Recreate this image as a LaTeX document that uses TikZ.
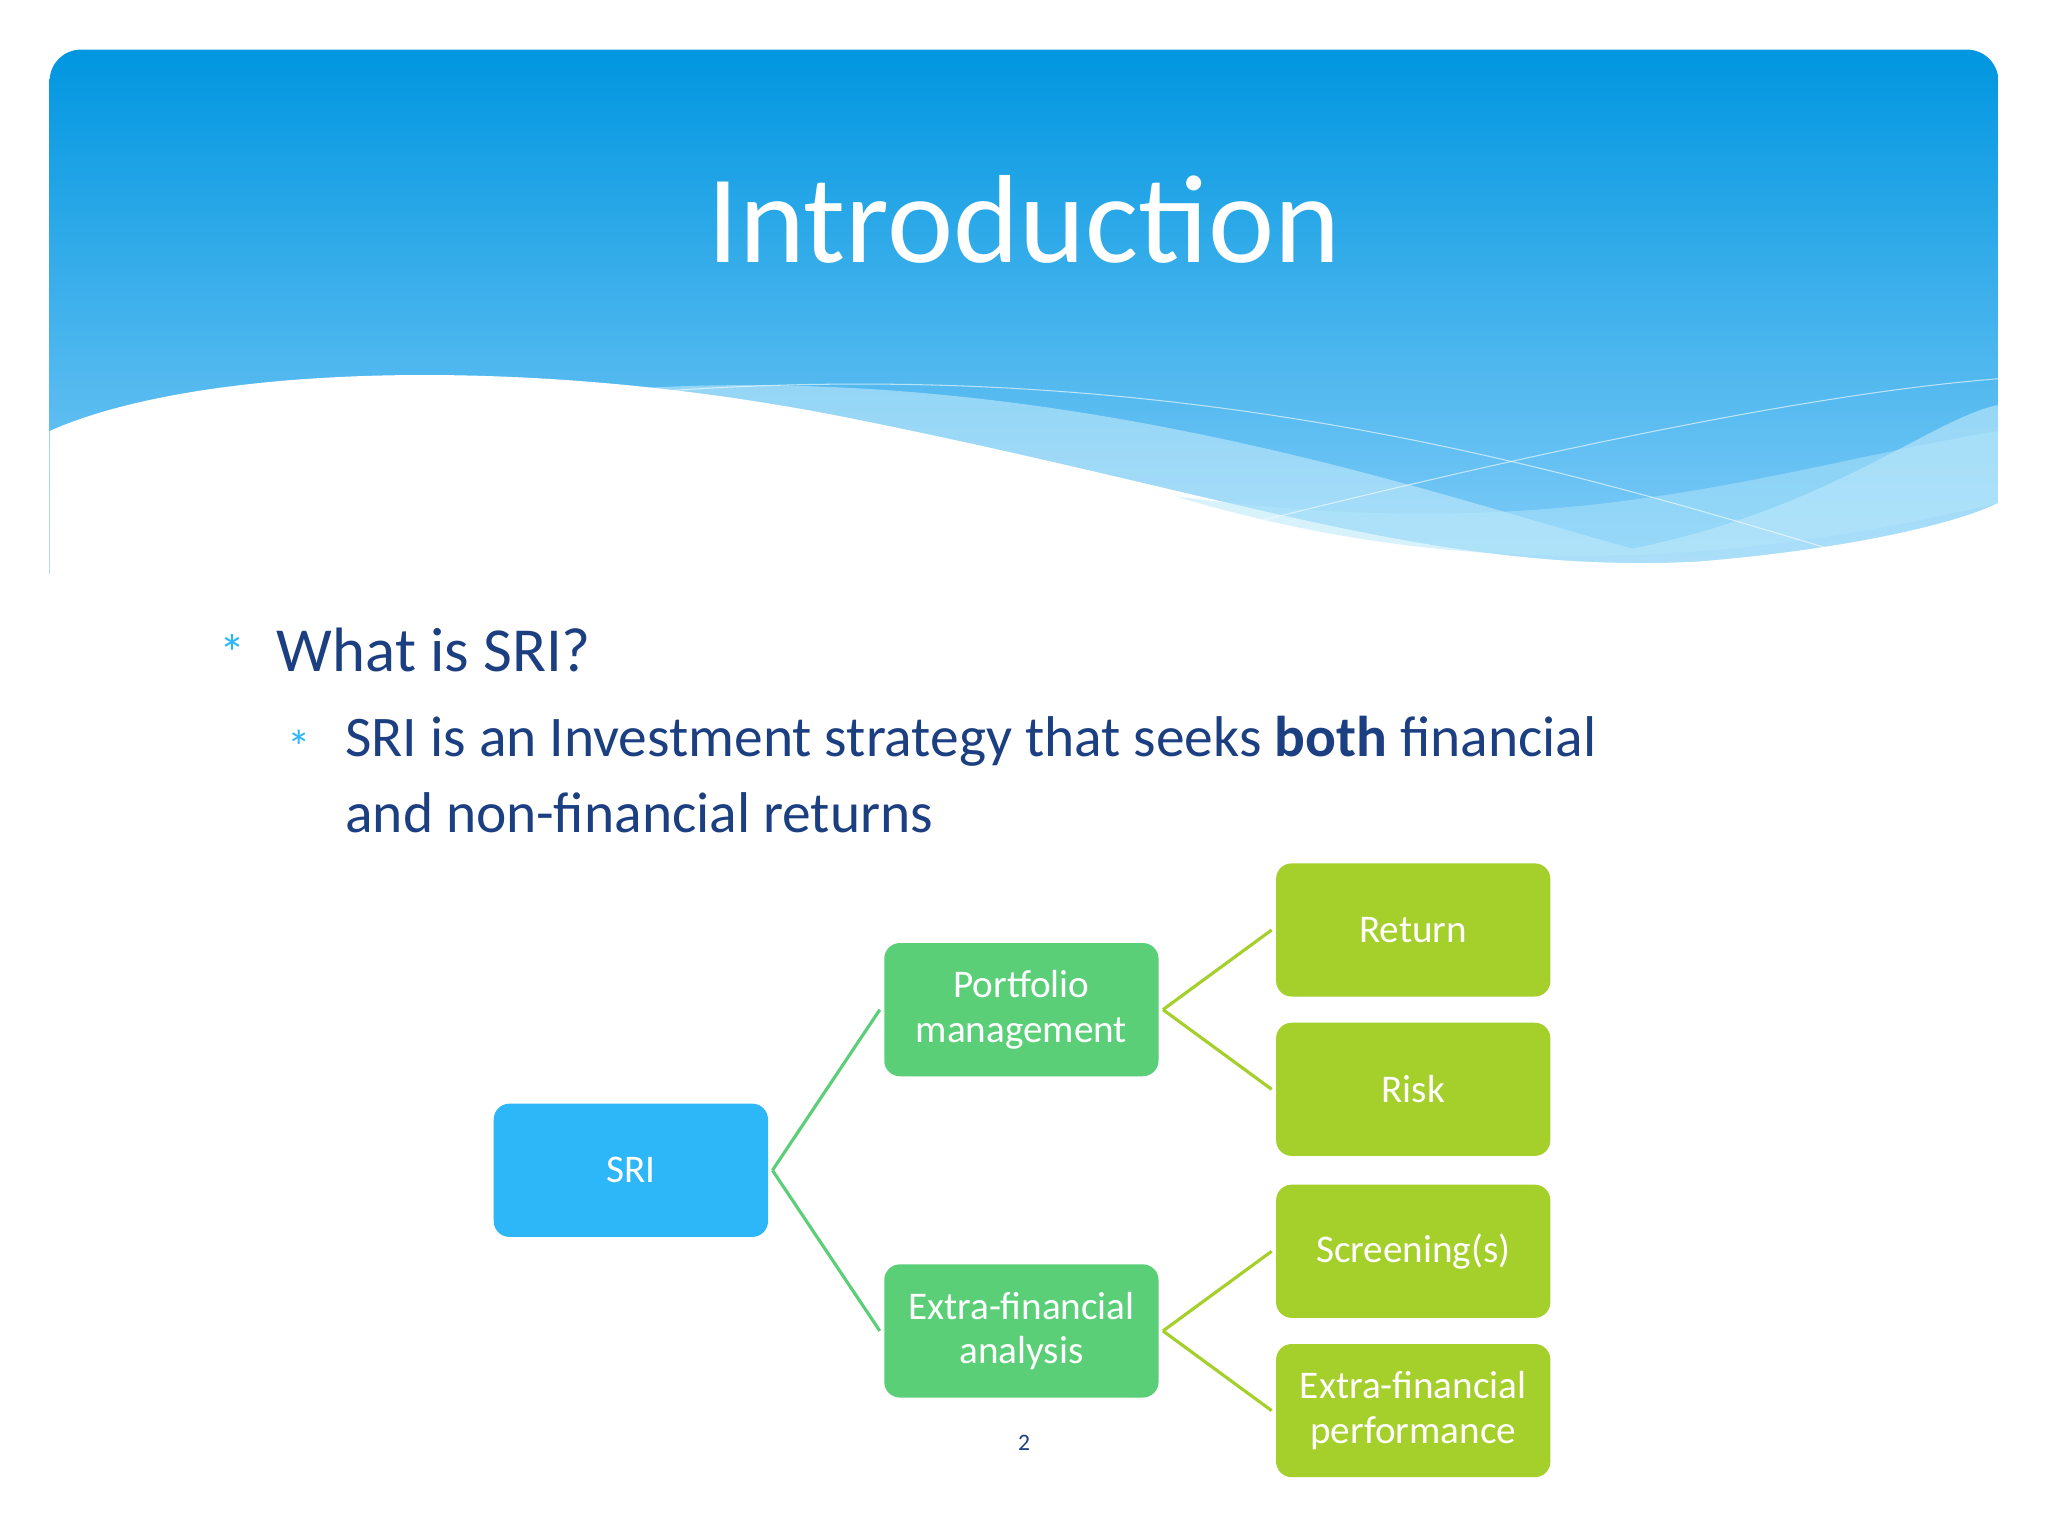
\documentclass[tikz,border=0pt]{standalone}
\usepackage{fontspec}
\setmainfont{Carlito}
\usetikzlibrary{shapes.misc}
\definecolor{tblue}{HTML}{1B3F80}
\definecolor{sri}{HTML}{2DB6F8}
\definecolor{pg}{HTML}{5BCF78}
\definecolor{lime}{HTML}{A5CF2A}
\definecolor{bul}{HTML}{2DB6F8}
\tikzset{
 box/.style={rounded corners=6pt,minimum width=105pt,minimum height=51pt,text=white,font=\fontsize{15}{17}\selectfont,align=center,inner sep=1pt},
 gl/.style={pg,line width=1.2pt},
 ll/.style={lime,line width=1.2pt}}
\begin{document}
\begin{tikzpicture}[x=0.5pt,y=-0.5pt]
\useasboundingbox (0,0) rectangle (1568,1176);
\fill[white] (0,0) rectangle (1568,1176);
% header
\begin{scope}
\clip[rounded corners=12pt] (38,38) rectangle (1530,480);
\shade[top color=blue!10!cyan!80!black!0,top color={rgb,255:red,0;green,150;blue,224},bottom color={rgb,255:red,130;green,205;blue,248}] (38,38) rectangle (1530,440);
\fill[white!60!cyan!40,opacity=0.5] (450,300) .. controls (800,270) and (1100,380) .. (1250,420) .. controls (1400,390) and (1480,320) .. (1530,310) -- (1530,480) -- (450,480) -- cycle;
\fill[white] (38,330) .. controls (150,280) and (400,270) .. (650,320) .. controls (950,380) and (1100,440) .. (1300,430) .. controls (1420,420) and (1500,400) .. (1530,385) -- (1530,480) -- (38,480) -- cycle;
\fill[cyan!30,opacity=0.5] (900,380) .. controls (1100,440) and (1300,440) .. (1530,385) -- (1530,330) .. controls (1350,360) and (1200,420) .. (900,380) -- cycle;
\draw[white,opacity=0.6] (500,300) .. controls (900,270) and (1200,360) .. (1400,420);
\draw[white,opacity=0.6] (960,400) .. controls (1200,340) and (1400,300) .. (1530,290);
\end{scope}
\node[text=white,font=\fontsize{48}{50}\selectfont] (title) at (784,168) {Introduction};
% bullets
\node[text=bul,font=\fontsize{20}{20}\selectfont] (b1) at (178,500) {*};
\node[anchor=west,text=tblue,font=\fontsize{24}{28}\selectfont] (t1) at (205,498) {What is SRI?};
\node[text=bul,font=\fontsize{18}{18}\selectfont] (b2) at (229,572) {*};
\node[anchor=north west,text=tblue,font=\fontsize{22}{29}\selectfont,align=left,inner sep=0pt] (t2) at (264,548) {SRI is an Investment strategy that seeks \textbf{both} financial\\and non-financial returns};
% nodes
\node[box,fill=sri] (sri) at (483,896) {SRI};
\node[box,fill=pg] (pm) at (782,773) {Portfolio\\management};
\node[box,fill=pg] (efa) at (782,1019) {Extra-financial\\analysis};
\node[box,fill=lime] (ret) at (1082,712) {Return};
\node[box,fill=lime] (risk) at (1082,834) {Risk};
\node[box,fill=lime] (scr) at (1082,958) {Screening(s)};
\node[box,fill=lime] (efp) at (1082,1080) {Extra-financial\\performance};
\draw[gl] ([xshift=1.5pt]sri.east) -- ([xshift=-1.5pt]pm.west);
\draw[gl] ([xshift=1.5pt]sri.east) -- ([xshift=-1.5pt]efa.west);
\draw[ll] ([xshift=1.5pt]pm.east) -- ([xshift=-1.5pt]ret.west);
\draw[ll] ([xshift=1.5pt]pm.east) -- ([xshift=-1.5pt]risk.west);
\draw[ll] ([xshift=1.5pt]efa.east) -- ([xshift=-1.5pt]scr.west);
\draw[ll] ([xshift=1.5pt]efa.east) -- ([xshift=-1.5pt]efp.west);
\node[text=tblue,font=\fontsize{9}{9}\selectfont] (pg) at (784,1105) {2};
\end{tikzpicture}
\end{document}
